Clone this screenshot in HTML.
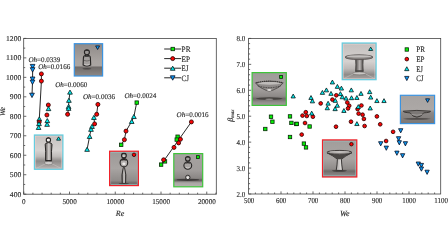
<!DOCTYPE html><html><head><meta charset="utf-8"><title>Figure</title><style>html,body{margin:0;padding:0;background:#fff}svg{display:block;filter:blur(0.35px)}text{stroke:#2a2a2a;stroke-width:0.14px}</style></head><body><svg width="448" height="252" viewBox="0 0 448 252" font-family='"Liberation Serif", serif' fill="#2a2a2a" text-rendering="geometricPrecision">
<defs>
<linearGradient id="gDark" x1="0" y1="0" x2="0" y2="1">
<stop offset="0" stop-color="#8f8a88"/><stop offset="0.55" stop-color="#a9a4a1"/><stop offset="0.69" stop-color="#aaa5a2"/><stop offset="0.72" stop-color="#6f6b69"/><stop offset="1" stop-color="#8d8886"/>
</linearGradient>
<linearGradient id="gLight" x1="0" y1="0" x2="0" y2="1">
<stop offset="0" stop-color="#c4c0be"/><stop offset="0.45" stop-color="#d6d3d1"/><stop offset="0.62" stop-color="#c0bcba"/><stop offset="0.76" stop-color="#8f8b89"/><stop offset="0.86" stop-color="#a19d9b"/><stop offset="1" stop-color="#b3afad"/>
</linearGradient>
<linearGradient id="gMid" x1="0" y1="0" x2="0" y2="1">
<stop offset="0" stop-color="#9c9896"/><stop offset="0.6" stop-color="#b0acaa"/><stop offset="0.85" stop-color="#8a8684"/><stop offset="1" stop-color="#777371"/>
</linearGradient>
<linearGradient id="gBlueR" x1="0" y1="0" x2="0" y2="1">
<stop offset="0" stop-color="#a7a3a1"/><stop offset="0.5" stop-color="#aca8a6"/><stop offset="0.62" stop-color="#8c8886"/><stop offset="1" stop-color="#7b7775"/>
</linearGradient>
<linearGradient id="gStem" x1="0" y1="0" x2="1" y2="0">
<stop offset="0" stop-color="#2c2a29"/><stop offset="0.3" stop-color="#8d8987"/><stop offset="0.55" stop-color="#c9c6c4"/><stop offset="0.8" stop-color="#6d6967"/><stop offset="1" stop-color="#2c2a29"/>
</linearGradient>
<radialGradient id="gDrop" cx="0.5" cy="0.45" r="0.55">
<stop offset="0" stop-color="#d8d5d3"/><stop offset="0.6" stop-color="#b5b1af"/><stop offset="0.85" stop-color="#4a4745"/><stop offset="1" stop-color="#2a2827"/>
</radialGradient>
<linearGradient id="gStem2" x1="0" y1="0" x2="1" y2="0">
<stop offset="0" stop-color="#55514f"/><stop offset="0.35" stop-color="#a5a19f"/><stop offset="0.55" stop-color="#d9d6d4"/><stop offset="0.8" stop-color="#8d8987"/><stop offset="1" stop-color="#55514f"/>
</linearGradient>
<linearGradient id="gMidA" x1="0" y1="0" x2="0" y2="1">
<stop offset="0" stop-color="#9d9997"/><stop offset="0.5" stop-color="#a8a4a2"/><stop offset="0.85" stop-color="#908c8a"/><stop offset="0.93" stop-color="#6f6b69"/><stop offset="1" stop-color="#8a8684"/>
</linearGradient>
<linearGradient id="gMidB" x1="0" y1="0" x2="0" y2="1">
<stop offset="0" stop-color="#a19d9b"/><stop offset="0.5" stop-color="#a9a5a3"/><stop offset="0.78" stop-color="#8f8b89"/><stop offset="0.84" stop-color="#716d6b"/><stop offset="1" stop-color="#949090"/>
</linearGradient>
<linearGradient id="gGreenL" x1="0" y1="0" x2="0" y2="1">
<stop offset="0" stop-color="#a6a2a0"/><stop offset="0.5" stop-color="#a19d9b"/><stop offset="0.74" stop-color="#8a8684"/><stop offset="0.8" stop-color="#5f5b59"/><stop offset="0.88" stop-color="#aaa6a4"/><stop offset="1" stop-color="#b5b1af"/>
</linearGradient>
<linearGradient id="gGreenR" x1="0" y1="0" x2="0" y2="1">
<stop offset="0" stop-color="#9f9b99"/><stop offset="0.45" stop-color="#a7a3a1"/><stop offset="0.72" stop-color="#8e8a88"/><stop offset="0.8" stop-color="#6d6967"/><stop offset="0.9" stop-color="#918d8b"/><stop offset="1" stop-color="#a09c9a"/>
</linearGradient>
<linearGradient id="gLightR" x1="0" y1="0" x2="0" y2="1">
<stop offset="0" stop-color="#c3bfbd"/><stop offset="0.5" stop-color="#d5d2d0"/><stop offset="0.7" stop-color="#bdb9b7"/><stop offset="0.86" stop-color="#8f8b89"/><stop offset="1" stop-color="#a9a5a3"/>
</linearGradient>
<linearGradient id="gStem3" x1="0" y1="0" x2="1" y2="0">
<stop offset="0" stop-color="#4a4745"/><stop offset="0.3" stop-color="#8d8987"/><stop offset="0.55" stop-color="#bdb9b7"/><stop offset="0.8" stop-color="#7c7876"/><stop offset="1" stop-color="#4a4745"/>
</linearGradient>
</defs>
<rect width="448" height="252" fill="#fff"/>
<rect x="23.7" y="38.4" width="192.60" height="155.80" fill="none" stroke="#444" stroke-width="0.8"/>
<path d="M23.75 194.2v-2.6M32.90 194.2v-1.5M42.05 194.2v-1.5M51.20 194.2v-1.5M60.35 194.2v-1.5M69.50 194.2v-2.6M78.65 194.2v-1.5M87.80 194.2v-1.5M96.95 194.2v-1.5M106.10 194.2v-1.5M115.25 194.2v-2.6M124.40 194.2v-1.5M133.55 194.2v-1.5M142.70 194.2v-1.5M151.85 194.2v-1.5M161.00 194.2v-2.6M170.15 194.2v-1.5M179.30 194.2v-1.5M188.45 194.2v-1.5M197.60 194.2v-1.5M206.75 194.2v-2.6M215.90 194.2v-1.5M23.7 194.20h2.6M23.7 184.46h1.5M23.7 174.72h2.6M23.7 164.99h1.5M23.7 155.25h2.6M23.7 145.51h1.5M23.7 135.77h2.6M23.7 126.04h1.5M23.7 116.30h2.6M23.7 106.56h1.5M23.7 96.82h2.6M23.7 87.09h1.5M23.7 77.35h2.6M23.7 67.61h1.5M23.7 57.87h2.6M23.7 48.14h1.5M23.7 38.40h2.6" stroke="#444" stroke-width="0.8" fill="none"/>
<text x="23.85" y="203.70" font-size="7.4" text-anchor="middle" textLength="3.59" lengthAdjust="spacingAndGlyphs">0</text>
<text x="69.60" y="203.70" font-size="7.4" text-anchor="middle" textLength="14.36" lengthAdjust="spacingAndGlyphs">5000</text>
<text x="115.35" y="203.70" font-size="7.4" text-anchor="middle" textLength="17.95" lengthAdjust="spacingAndGlyphs">10000</text>
<text x="161.10" y="203.70" font-size="7.4" text-anchor="middle" textLength="17.95" lengthAdjust="spacingAndGlyphs">15000</text>
<text x="206.85" y="203.70" font-size="7.4" text-anchor="middle" textLength="17.95" lengthAdjust="spacingAndGlyphs">20000</text>
<text x="21.30" y="196.70" font-size="7.4" text-anchor="end" textLength="11.43" lengthAdjust="spacingAndGlyphs">400</text>
<text x="21.30" y="177.22" font-size="7.4" text-anchor="end" textLength="11.43" lengthAdjust="spacingAndGlyphs">500</text>
<text x="21.30" y="157.75" font-size="7.4" text-anchor="end" textLength="11.43" lengthAdjust="spacingAndGlyphs">600</text>
<text x="21.30" y="138.27" font-size="7.4" text-anchor="end" textLength="11.43" lengthAdjust="spacingAndGlyphs">700</text>
<text x="21.30" y="118.80" font-size="7.4" text-anchor="end" textLength="11.43" lengthAdjust="spacingAndGlyphs">800</text>
<text x="21.30" y="99.32" font-size="7.4" text-anchor="end" textLength="11.43" lengthAdjust="spacingAndGlyphs">900</text>
<text x="21.30" y="79.85" font-size="7.4" text-anchor="end" textLength="15.24" lengthAdjust="spacingAndGlyphs">1000</text>
<text x="21.30" y="60.37" font-size="7.4" text-anchor="end" textLength="15.24" lengthAdjust="spacingAndGlyphs">1100</text>
<text x="21.30" y="40.90" font-size="7.4" text-anchor="end" textLength="15.24" lengthAdjust="spacingAndGlyphs">1200</text>
<text x="120.00" y="215.70" font-size="8" text-anchor="middle" font-style="italic">Re</text>
<text transform="translate(5.4 111.6) rotate(-90)" font-size="8" font-style="italic" text-anchor="middle">We</text>
<text x="28.40" y="61.80" font-size="7.1" textLength="32.0" lengthAdjust="spacingAndGlyphs" stroke="#2a2a2a" stroke-width="0.15"><tspan font-style="italic">Oh</tspan>=0.0339</text>
<text x="38.20" y="69.40" font-size="7.1" textLength="32.0" lengthAdjust="spacingAndGlyphs" stroke="#2a2a2a" stroke-width="0.15"><tspan font-style="italic">Oh</tspan>=0.0166</text>
<text x="55.20" y="87.40" font-size="7.1" textLength="32.0" lengthAdjust="spacingAndGlyphs" stroke="#2a2a2a" stroke-width="0.15"><tspan font-style="italic">Oh</tspan>=0.0060</text>
<text x="83.00" y="99.40" font-size="7.1" textLength="32.0" lengthAdjust="spacingAndGlyphs" stroke="#2a2a2a" stroke-width="0.15"><tspan font-style="italic">Oh</tspan>=0.0036</text>
<text x="124.40" y="97.50" font-size="7.1" textLength="32.0" lengthAdjust="spacingAndGlyphs" stroke="#2a2a2a" stroke-width="0.15"><tspan font-style="italic">Oh</tspan>=0.0024</text>
<text x="176.60" y="116.70" font-size="7.1" textLength="32.0" lengthAdjust="spacingAndGlyphs" stroke="#2a2a2a" stroke-width="0.15"><tspan font-style="italic">Oh</tspan>=0.0016</text>
<polyline points="32.6,66.4 32.6,69.7 32.6,79.0 32.5,82.1 32.0,95.2" fill="none" stroke="#111" stroke-width="0.9"/>
<polyline points="41.4,73.9 41.4,81.1 39.3,118.9 39.2,122.0 39.0,123.6 38.6,127.4" fill="none" stroke="#111" stroke-width="0.9"/>
<polyline points="70.0,92.1 68.9,100.3 68.6,106.4 68.6,108.3 67.6,114.3" fill="none" stroke="#111" stroke-width="0.9"/>
<polyline points="97.9,104.4 96.7,114.3 93.9,117.4 94.6,123.9 92.0,126.4 91.0,129.3 89.6,136.4 87.1,149.3" fill="none" stroke="#111" stroke-width="0.9"/>
<polyline points="136.7,102.6 133.9,116.5 131.7,121.4 126.0,131.1 124.4,139.7 121.2,144.8" fill="none" stroke="#111" stroke-width="0.9"/>
<polyline points="191.4,121.9 161.1,164.6" fill="none" stroke="#111" stroke-width="0.9"/>
<path d="M30.25 64.40L34.95 64.40L32.60 68.80Z" fill="#0c98f6" stroke="#061026" stroke-width="0.8" stroke-linejoin="miter"/>
<path d="M30.25 67.70L34.95 67.70L32.60 72.10Z" fill="#0c98f6" stroke="#061026" stroke-width="0.8" stroke-linejoin="miter"/>
<path d="M30.25 77.00L34.95 77.00L32.60 81.40Z" fill="#0c98f6" stroke="#061026" stroke-width="0.8" stroke-linejoin="miter"/>
<path d="M30.15 80.10L34.85 80.10L32.50 84.50Z" fill="#0c98f6" stroke="#061026" stroke-width="0.8" stroke-linejoin="miter"/>
<path d="M29.65 93.20L34.35 93.20L32.00 97.60Z" fill="#0c98f6" stroke="#061026" stroke-width="0.8" stroke-linejoin="miter"/>
<circle cx="41.40" cy="73.90" r="2.0" fill="#fa0505" stroke="#300505" stroke-width="0.85"/>
<circle cx="41.40" cy="81.10" r="2.0" fill="#fa0505" stroke="#300505" stroke-width="0.85"/>
<path d="M36.95 120.95L41.65 120.95L39.30 116.85Z" fill="#04eef2" stroke="#061818" stroke-width="0.8" stroke-linejoin="miter"/>
<circle cx="39.20" cy="122.00" r="2.0" fill="#fa0505" stroke="#300505" stroke-width="0.85"/>
<path d="M36.65 125.65L41.35 125.65L39.00 121.55Z" fill="#04eef2" stroke="#061818" stroke-width="0.8" stroke-linejoin="miter"/>
<path d="M36.25 129.45L40.95 129.45L38.60 125.35Z" fill="#04eef2" stroke="#061818" stroke-width="0.8" stroke-linejoin="miter"/>
<circle cx="48.30" cy="105.00" r="2.0" fill="#fa0505" stroke="#300505" stroke-width="0.85"/>
<path d="M46.15 110.65L50.85 110.65L48.50 106.55Z" fill="#04eef2" stroke="#061818" stroke-width="0.8" stroke-linejoin="miter"/>
<circle cx="46.90" cy="115.00" r="2.0" fill="#fa0505" stroke="#300505" stroke-width="0.85"/>
<path d="M44.95 122.65L49.65 122.65L47.30 118.55Z" fill="#04eef2" stroke="#061818" stroke-width="0.8" stroke-linejoin="miter"/>
<path d="M44.75 126.35L49.45 126.35L47.10 122.25Z" fill="#04eef2" stroke="#061818" stroke-width="0.8" stroke-linejoin="miter"/>
<path d="M67.65 94.15L72.35 94.15L70.00 90.05Z" fill="#04eef2" stroke="#061818" stroke-width="0.8" stroke-linejoin="miter"/>
<path d="M66.55 102.35L71.25 102.35L68.90 98.25Z" fill="#04eef2" stroke="#061818" stroke-width="0.8" stroke-linejoin="miter"/>
<path d="M66.25 108.45L70.95 108.45L68.60 104.35Z" fill="#04eef2" stroke="#061818" stroke-width="0.8" stroke-linejoin="miter"/>
<path d="M66.25 110.35L70.95 110.35L68.60 106.25Z" fill="#04eef2" stroke="#061818" stroke-width="0.8" stroke-linejoin="miter"/>
<circle cx="67.60" cy="114.30" r="2.0" fill="#fa0505" stroke="#300505" stroke-width="0.85"/>
<circle cx="97.90" cy="104.40" r="2.0" fill="#fa0505" stroke="#300505" stroke-width="0.85"/>
<circle cx="96.70" cy="114.30" r="2.0" fill="#fa0505" stroke="#300505" stroke-width="0.85"/>
<path d="M91.55 119.45L96.25 119.45L93.90 115.35Z" fill="#04eef2" stroke="#061818" stroke-width="0.8" stroke-linejoin="miter"/>
<circle cx="94.60" cy="123.90" r="2.0" fill="#fa0505" stroke="#300505" stroke-width="0.85"/>
<path d="M89.65 128.45L94.35 128.45L92.00 124.35Z" fill="#04eef2" stroke="#061818" stroke-width="0.8" stroke-linejoin="miter"/>
<path d="M88.65 131.35L93.35 131.35L91.00 127.25Z" fill="#04eef2" stroke="#061818" stroke-width="0.8" stroke-linejoin="miter"/>
<path d="M87.25 138.45L91.95 138.45L89.60 134.35Z" fill="#04eef2" stroke="#061818" stroke-width="0.8" stroke-linejoin="miter"/>
<path d="M84.75 151.35L89.45 151.35L87.10 147.25Z" fill="#04eef2" stroke="#061818" stroke-width="0.8" stroke-linejoin="miter"/>
<rect x="135.00" y="100.90" width="3.4" height="3.4" fill="#06f006" stroke="#082808" stroke-width="0.8"/>
<path d="M131.55 118.55L136.25 118.55L133.90 114.45Z" fill="#04eef2" stroke="#061818" stroke-width="0.8" stroke-linejoin="miter"/>
<path d="M129.35 123.45L134.05 123.45L131.70 119.35Z" fill="#04eef2" stroke="#061818" stroke-width="0.8" stroke-linejoin="miter"/>
<circle cx="126.00" cy="131.10" r="2.0" fill="#fa0505" stroke="#300505" stroke-width="0.85"/>
<circle cx="124.40" cy="139.70" r="2.0" fill="#fa0505" stroke="#300505" stroke-width="0.85"/>
<rect x="119.50" y="143.10" width="3.4" height="3.4" fill="#06f006" stroke="#082808" stroke-width="0.8"/>
<circle cx="191.40" cy="121.90" r="2.0" fill="#fa0505" stroke="#300505" stroke-width="0.85"/>
<rect x="175.90" y="135.00" width="3.4" height="3.4" fill="#06f006" stroke="#082808" stroke-width="0.8"/>
<rect x="175.00" y="137.90" width="3.4" height="3.4" fill="#06f006" stroke="#082808" stroke-width="0.8"/>
<circle cx="180.40" cy="139.30" r="2.0" fill="#fa0505" stroke="#300505" stroke-width="0.85"/>
<circle cx="178.60" cy="142.90" r="2.0" fill="#fa0505" stroke="#300505" stroke-width="0.85"/>
<circle cx="174.00" cy="147.40" r="2.0" fill="#fa0505" stroke="#300505" stroke-width="0.85"/>
<rect x="163.30" y="159.70" width="3.4" height="3.4" fill="#06f006" stroke="#082808" stroke-width="0.8"/>
<circle cx="163.60" cy="159.80" r="2.0" fill="#fa0505" stroke="#300505" stroke-width="0.85"/>
<rect x="159.40" y="162.90" width="3.4" height="3.4" fill="#06f006" stroke="#082808" stroke-width="0.8"/>
<path d="M164.2 49.00H181.2" stroke="#111" stroke-width="0.9"/>
<rect x="171.00" y="47.30" width="3.4" height="3.4" fill="#06f006" stroke="#082808" stroke-width="0.8"/>
<text x="181.60" y="51.90" font-size="8.3" text-anchor="start" textLength="9.0" lengthAdjust="spacingAndGlyphs">PR</text>
<path d="M164.2 58.60H181.2" stroke="#111" stroke-width="0.9"/>
<circle cx="172.70" cy="58.60" r="2.0" fill="#fa0505" stroke="#300505" stroke-width="0.85"/>
<text x="181.60" y="61.50" font-size="8.3" text-anchor="start" textLength="8.5" lengthAdjust="spacingAndGlyphs">EP</text>
<path d="M164.2 68.20H181.2" stroke="#111" stroke-width="0.9"/>
<path d="M170.35 70.25L175.05 70.25L172.70 66.15Z" fill="#04eef2" stroke="#061818" stroke-width="0.8" stroke-linejoin="miter"/>
<text x="181.60" y="71.10" font-size="8.3" text-anchor="start" textLength="6.8" lengthAdjust="spacingAndGlyphs">EJ</text>
<path d="M164.2 77.80H181.2" stroke="#111" stroke-width="0.9"/>
<path d="M170.35 75.80L175.05 75.80L172.70 80.20Z" fill="#0c98f6" stroke="#061026" stroke-width="0.8" stroke-linejoin="miter"/>
<text x="181.60" y="80.70" font-size="8.3" text-anchor="start" textLength="7.3" lengthAdjust="spacingAndGlyphs">CJ</text>
<rect x="74.30" y="43.70" width="28.30" height="32.30" fill="url(#gDark)"/>
<ellipse cx="86.90" cy="52.20" rx="2.5" ry="2.5" fill="#9b9795" stroke="#262423" stroke-width="1.1"/><path d="M84.90 51.08Q86.90 48.45 88.90 51.08Q86.90 50.33 84.90 51.08Z" fill="#262423"/>
<path d="M83.4 58Q83.3 55.2 86.9 55.2Q90.5 55.2 90.4 58L90.7 65Q86.9 66.9 83.1 65Z" fill="#a39f9d" stroke="#262423" stroke-width="1.1"/>
<path d="M83.9 57.2Q86.9 54.6 89.9 57.2Q86.9 56.4 83.9 57.2Z" fill="#262423"/>
<path d="M84 60.4Q86.9 61.6 89.8 60.4" stroke="#4a4745" stroke-width="0.6" fill="none"/>
<path d="M84.4 64.6Q86.9 65.6 89.4 64.6" stroke="#e6e4e2" stroke-width="0.7" fill="none"/>
<ellipse cx="86.9" cy="68.8" rx="4.4" ry="0.7" fill="#4a4745"/>
<rect x="74.30" y="43.70" width="28.30" height="32.30" fill="none" stroke="#3b93e0" stroke-width="1.2"/>
<path d="M95.60 45.90L99.60 45.90L97.60 49.50Z" fill="#0c98f6" stroke="#061026" stroke-width="0.8" stroke-linejoin="miter"/>
<rect x="34.40" y="135.00" width="28.50" height="34.30" fill="url(#gLight)"/>
<path d="M35 169L46 163.4M62.3 169L51.4 163.4" stroke="#c9c6c4" stroke-width="0.5"/>
<path d="M45.2 144.6Q45.4 142.6 48.6 142.6Q51.8 142.6 52 144.6Q51.2 150 51.6 160.6H45.6Q46 150 45.2 144.6Z" fill="url(#gStem2)" stroke="#262423" stroke-width="1.0"/>
<path d="M45.6 160.2H51.6V161.4H45.6Z" fill="#262423"/>
<path d="M44.6 162Q48.6 160.8 52.6 162Q53.4 164.6 48.6 164.8Q43.8 164.6 44.6 162Z" fill="#cfccca" stroke="#6b6765" stroke-width="0.5"/>
<circle cx="48.4" cy="139.9" r="2.15" fill="#f3f1ef" stroke="#262423" stroke-width="1.1"/>
<path d="M46.6 139Q48.4 136.2 50.2 139Q48.4 138 46.6 139Z" fill="#262423"/>
<rect x="35.60" y="136.20" width="26.10" height="31.90" fill="none" stroke="#e9cfcd" stroke-width="0.5"/><rect x="34.40" y="135.00" width="28.50" height="34.30" fill="none" stroke="#63cde0" stroke-width="1.2"/>
<path d="M56.60 140.15L60.60 140.15L58.60 136.85Z" fill="#04eef2" stroke="#061818" stroke-width="0.8" stroke-linejoin="miter"/>
<rect x="109.60" y="151.20" width="28.80" height="34.40" fill="url(#gMidA)"/>
<ellipse cx="123.90" cy="155.50" rx="2.4" ry="2.4" fill="#aaa6a4" stroke="#262423" stroke-width="1.1"/><path d="M121.98 154.42Q123.90 151.90 125.82 154.42Q123.90 153.70 121.98 154.42Z" fill="#262423"/><ellipse cx="123.90" cy="156.10" rx="1.01" ry="0.72" fill="#efedeb"/>
<ellipse cx="123.90" cy="162.70" rx="3.8" ry="4.2" fill="#b2aeac" stroke="#262423" stroke-width="1.1"/><path d="M120.86 160.81Q123.90 156.40 126.94 160.81Q123.90 159.55 120.86 160.81Z" fill="#262423"/><ellipse cx="123.90" cy="163.75" rx="1.60" ry="1.26" fill="#efedeb"/>
<path d="M123.3 167.6Q123.9 167 124.5 167.6Q126.6 174 125.6 183.4H122.2Q121.2 174 123.3 167.6Z" fill="url(#gStem2)" stroke="#262423" stroke-width="0.9"/>
<ellipse cx="123.9" cy="183.6" rx="5.4" ry="0.7" fill="#3f3c3b"/>
<rect x="110.80" y="152.40" width="26.40" height="32.00" fill="none" stroke="#8fcaca" stroke-width="0.5"/><rect x="109.60" y="151.20" width="28.80" height="34.40" fill="none" stroke="#f0222a" stroke-width="1.2"/>
<circle cx="134.00" cy="154.80" r="1.75" fill="#fa0505" stroke="#300505" stroke-width="0.85"/>
<rect x="173.80" y="153.60" width="28.90" height="33.20" fill="url(#gGreenL)"/>
<ellipse cx="187.80" cy="158.80" rx="2.3" ry="2.3" fill="#a29e9c" stroke="#262423" stroke-width="1.1"/><path d="M185.96 157.77Q187.80 155.35 189.64 157.77Q187.80 157.08 185.96 157.77Z" fill="#262423"/>
<ellipse cx="187.80" cy="165.50" rx="3.9" ry="3.7" fill="#a8a4a2" stroke="#262423" stroke-width="1.1"/><path d="M184.68 163.84Q187.80 159.95 190.92 163.84Q187.80 162.72 184.68 163.84Z" fill="#262423"/>
<path d="M186 167.4Q187.8 168.6 189.6 167.4" stroke="#e6e4e2" stroke-width="0.6" fill="none"/>
<ellipse cx="187.8" cy="179.8" rx="11.5" ry="1.1" fill="#3f3c3b"/>
<circle cx="187.8" cy="177.4" r="2.2" fill="#c9c6c4" stroke="#262423" stroke-width="0.9"/>
<circle cx="187.8" cy="177.8" r="0.9" fill="#f3f1ef"/>
<rect x="173.80" y="153.60" width="28.90" height="33.20" fill="none" stroke="#3fc43a" stroke-width="1.2"/>
<rect x="196.45" y="155.65" width="2.9" height="2.9" fill="#06f006" stroke="#082808" stroke-width="0.8"/>
<rect x="248.6" y="38.4" width="192.10" height="155.60" fill="none" stroke="#444" stroke-width="0.8"/>
<path d="M255.40 194.0v-1.5M261.80 194.0v-1.5M268.20 194.0v-1.5M274.60 194.0v-1.5M281.00 194.0v-2.6M287.40 194.0v-1.5M293.80 194.0v-1.5M300.20 194.0v-1.5M306.60 194.0v-1.5M313.00 194.0v-2.6M319.40 194.0v-1.5M325.80 194.0v-1.5M332.20 194.0v-1.5M338.60 194.0v-1.5M345.00 194.0v-2.6M351.40 194.0v-1.5M357.80 194.0v-1.5M364.20 194.0v-1.5M370.60 194.0v-1.5M377.00 194.0v-2.6M383.40 194.0v-1.5M389.80 194.0v-1.5M396.20 194.0v-1.5M402.60 194.0v-1.5M409.00 194.0v-2.6M415.40 194.0v-1.5M421.80 194.0v-1.5M428.20 194.0v-1.5M434.60 194.0v-1.5M248.6 194.00h2.6M248.6 188.81h1.5M248.6 183.63h1.5M248.6 178.44h1.5M248.6 173.26h1.5M248.6 168.07h2.6M248.6 162.88h1.5M248.6 157.70h1.5M248.6 152.51h1.5M248.6 147.33h1.5M248.6 142.14h2.6M248.6 136.95h1.5M248.6 131.77h1.5M248.6 126.58h1.5M248.6 121.40h1.5M248.6 116.21h2.6M248.6 111.02h1.5M248.6 105.84h1.5M248.6 100.65h1.5M248.6 95.47h1.5M248.6 90.28h2.6M248.6 85.09h1.5M248.6 79.91h1.5M248.6 74.72h1.5M248.6 69.54h1.5M248.6 64.35h2.6M248.6 59.16h1.5M248.6 53.98h1.5M248.6 48.79h1.5M248.6 43.61h1.5M248.6 38.42h2.6" stroke="#444" stroke-width="0.8" fill="none"/>
<text x="249.10" y="203.30" font-size="7.6" text-anchor="middle" textLength="10.26" lengthAdjust="spacingAndGlyphs">500</text>
<text x="281.10" y="203.30" font-size="7.6" text-anchor="middle" textLength="10.26" lengthAdjust="spacingAndGlyphs">600</text>
<text x="313.10" y="203.30" font-size="7.6" text-anchor="middle" textLength="10.26" lengthAdjust="spacingAndGlyphs">700</text>
<text x="345.10" y="203.30" font-size="7.6" text-anchor="middle" textLength="10.26" lengthAdjust="spacingAndGlyphs">800</text>
<text x="377.10" y="203.30" font-size="7.6" text-anchor="middle" textLength="10.26" lengthAdjust="spacingAndGlyphs">900</text>
<text x="409.10" y="203.30" font-size="7.6" text-anchor="middle" textLength="13.68" lengthAdjust="spacingAndGlyphs">1000</text>
<text x="441.10" y="203.30" font-size="7.6" text-anchor="middle" textLength="13.68" lengthAdjust="spacingAndGlyphs">1100</text>
<text x="245.30" y="196.90" font-size="7.6" text-anchor="end" textLength="8.74" lengthAdjust="spacingAndGlyphs">2.0</text>
<text x="245.30" y="170.97" font-size="7.6" text-anchor="end" textLength="8.74" lengthAdjust="spacingAndGlyphs">3.0</text>
<text x="245.30" y="145.04" font-size="7.6" text-anchor="end" textLength="8.74" lengthAdjust="spacingAndGlyphs">4.0</text>
<text x="245.30" y="119.11" font-size="7.6" text-anchor="end" textLength="8.74" lengthAdjust="spacingAndGlyphs">5.0</text>
<text x="245.30" y="93.18" font-size="7.6" text-anchor="end" textLength="8.74" lengthAdjust="spacingAndGlyphs">6.0</text>
<text x="245.30" y="67.25" font-size="7.6" text-anchor="end" textLength="8.74" lengthAdjust="spacingAndGlyphs">7.0</text>
<text x="245.30" y="41.32" font-size="7.6" text-anchor="end" textLength="8.74" lengthAdjust="spacingAndGlyphs">8.0</text>
<text x="344.80" y="215.70" font-size="8" text-anchor="middle" font-style="italic">We</text>
<text transform="translate(232.8 115.7) rotate(-90)" font-size="8" font-style="italic" text-anchor="middle">β<tspan font-size="4.9" dy="1.5">max</tspan></text>
<rect x="252.10" y="72.60" width="34.20" height="32.80" fill="url(#gGreenR)"/>
<path d="M255.4 82.8Q269.3 79.8 283.2 82.8Q280.4 87.6 272.4 90.4Q269.3 91.6 266.2 90.4Q258.2 87.6 255.4 82.8Z" fill="#8f8b89" stroke="#3f3c3b" stroke-width="0.7"/>
<ellipse cx="269.3" cy="83.2" rx="11.6" ry="1.5" fill="#bfbcba"/>
<path d="M256.4 82.6Q269.3 79.6 282.2 82.6" stroke="#34312f" stroke-width="1.1" fill="none" stroke-dasharray="1.1 0.8"/>
<path d="M257.8 85.8Q269.3 89.6 280.8 85.8" stroke="#2e2b2a" stroke-width="0.9" fill="none" stroke-dasharray="0.9 0.8"/>
<ellipse cx="269.3" cy="90" rx="2.2" ry="0.9" fill="#dedcda"/>
<ellipse cx="269.3" cy="98.6" rx="13.4" ry="1.3" fill="#45423f"/>
<ellipse cx="269.3" cy="99.2" rx="4" ry="0.7" fill="#8d8987"/>
<rect x="252.10" y="72.60" width="34.20" height="32.80" fill="none" stroke="#3fc43a" stroke-width="1.2"/>
<rect x="279.65" y="75.45" width="2.9" height="2.9" fill="#06f006" stroke="#082808" stroke-width="0.8"/>
<rect x="342.20" y="43.00" width="33.90" height="36.70" fill="url(#gLightR)"/>
<path d="M343 79L353 74M375.4 79L365.6 74" stroke="#c9c6c4" stroke-width="0.5"/>
<path d="M355.6 58Q359.4 59.8 363.2 58Q362.6 65 363.2 71.6H355.6Q356.2 65 355.6 58Z" fill="url(#gStem3)" stroke="#4a4745" stroke-width="0.9"/>
<path d="M355.6 70.2H363.2V71.8H355.6Z" fill="#4a4745"/>
<path d="M353 72.6Q359.4 71.4 365.8 72.6Q367.6 74.6 359.4 74.8Q351.2 74.6 353 72.6Z" fill="#c9c6c4" stroke="#77736f" stroke-width="0.5"/>
<ellipse cx="359" cy="57.2" rx="14" ry="2.4" fill="#85817f" stroke="#55514f" stroke-width="0.8"/>
<ellipse cx="359" cy="56.4" rx="12.2" ry="1.2" fill="#c2bfbd"/>
<rect x="343.40" y="44.20" width="31.50" height="34.30" fill="none" stroke="#e9cfcd" stroke-width="0.5"/><rect x="342.20" y="43.00" width="33.90" height="36.70" fill="none" stroke="#63cde0" stroke-width="1.2"/>
<path d="M368.70 50.45L372.70 50.45L370.70 47.15Z" fill="#04eef2" stroke="#061818" stroke-width="0.8" stroke-linejoin="miter"/>
<rect x="400.40" y="95.30" width="34.20" height="28.30" fill="url(#gBlueR)"/>
<path d="M403.2 111.2Q416.9 109.6 430.6 111.2Q430.8 112.4 423.6 112.9Q421.4 116.9 416.9 117.2Q412.4 116.9 410.2 112.9Q403 112.4 403.2 111.2Z" fill="#7c7876" stroke="#34312f" stroke-width="0.9"/>
<path d="M411.4 114.4Q416.9 116 422.4 114.4" stroke="#b9b5b3" stroke-width="0.6" fill="none"/>
<ellipse cx="416.9" cy="118.8" rx="13.6" ry="0.9" fill="#4f4b49"/>
<rect x="400.40" y="95.30" width="34.20" height="28.30" fill="none" stroke="#3b93e0" stroke-width="1.2"/>
<path d="M425.60 98.80L429.60 98.80L427.60 102.40Z" fill="#0c98f6" stroke="#061026" stroke-width="0.8" stroke-linejoin="miter"/>
<rect x="322.50" y="139.90" width="34.30" height="37.10" fill="url(#gMidB)"/>
<path d="M327 152.8Q339.4 149.6 351.8 152.8Q345 156 341.4 159.2Q341.6 165 342.6 170.4H336.2Q337.2 165 337.4 159.2Q333.8 156 327 152.8Z" fill="url(#gStem2)" stroke="#2e2b2a" stroke-width="0.9"/>
<path d="M327 152.8Q339.4 156.6 351.8 152.8Q345 156 341.4 159.2H337.4Q333.8 156 327 152.8Z" fill="#4a4745"/>
<ellipse cx="339.4" cy="152.4" rx="12.5" ry="2" fill="#8f8b89" stroke="#2e2b2a" stroke-width="0.8"/>
<ellipse cx="339.4" cy="151.9" rx="10" ry="1" fill="#c4c1bf"/>
<ellipse cx="339.4" cy="170.8" rx="7.6" ry="0.9" fill="#3f3c3b"/>
<rect x="323.70" y="141.10" width="31.90" height="34.70" fill="none" stroke="#8fcaca" stroke-width="0.5"/><rect x="322.50" y="139.90" width="34.30" height="37.10" fill="none" stroke="#f0222a" stroke-width="1.2"/>
<circle cx="351.40" cy="144.20" r="1.75" fill="#fa0505" stroke="#300505" stroke-width="0.85"/>
<rect x="269.30" y="115.00" width="3.4" height="3.4" fill="#06f006" stroke="#082808" stroke-width="0.8"/>
<rect x="270.70" y="120.00" width="3.4" height="3.4" fill="#06f006" stroke="#082808" stroke-width="0.8"/>
<rect x="263.60" y="127.30" width="3.4" height="3.4" fill="#06f006" stroke="#082808" stroke-width="0.8"/>
<rect x="288.30" y="114.70" width="3.4" height="3.4" fill="#06f006" stroke="#082808" stroke-width="0.8"/>
<rect x="289.70" y="121.20" width="3.4" height="3.4" fill="#06f006" stroke="#082808" stroke-width="0.8"/>
<rect x="294.60" y="122.30" width="3.4" height="3.4" fill="#06f006" stroke="#082808" stroke-width="0.8"/>
<rect x="307.90" y="124.80" width="3.4" height="3.4" fill="#06f006" stroke="#082808" stroke-width="0.8"/>
<rect x="288.30" y="135.30" width="3.4" height="3.4" fill="#06f006" stroke="#082808" stroke-width="0.8"/>
<rect x="302.20" y="141.90" width="3.4" height="3.4" fill="#06f006" stroke="#082808" stroke-width="0.8"/>
<rect x="304.30" y="145.70" width="3.4" height="3.4" fill="#06f006" stroke="#082808" stroke-width="0.8"/>
<rect x="295.00" y="122.20" width="3.4" height="3.4" fill="#06f006" stroke="#082808" stroke-width="0.8"/>
<circle cx="320.70" cy="103.40" r="1.85" fill="#fa0505" stroke="#300505" stroke-width="0.85"/>
<circle cx="332.40" cy="99.60" r="1.85" fill="#fa0505" stroke="#300505" stroke-width="0.85"/>
<circle cx="336.30" cy="95.30" r="1.85" fill="#fa0505" stroke="#300505" stroke-width="0.85"/>
<circle cx="347.30" cy="102.50" r="1.85" fill="#fa0505" stroke="#300505" stroke-width="0.85"/>
<circle cx="349.20" cy="105.70" r="1.85" fill="#fa0505" stroke="#300505" stroke-width="0.85"/>
<circle cx="348.00" cy="108.40" r="1.85" fill="#fa0505" stroke="#300505" stroke-width="0.85"/>
<circle cx="305.80" cy="112.20" r="1.85" fill="#fa0505" stroke="#300505" stroke-width="0.85"/>
<circle cx="302.50" cy="115.60" r="1.85" fill="#fa0505" stroke="#300505" stroke-width="0.85"/>
<circle cx="306.80" cy="116.00" r="1.85" fill="#fa0505" stroke="#300505" stroke-width="0.85"/>
<circle cx="312.90" cy="116.70" r="1.85" fill="#fa0505" stroke="#300505" stroke-width="0.85"/>
<circle cx="305.00" cy="123.00" r="1.85" fill="#fa0505" stroke="#300505" stroke-width="0.85"/>
<circle cx="301.70" cy="134.60" r="1.85" fill="#fa0505" stroke="#300505" stroke-width="0.85"/>
<circle cx="336.00" cy="126.70" r="1.85" fill="#fa0505" stroke="#300505" stroke-width="0.85"/>
<circle cx="351.00" cy="121.70" r="1.85" fill="#fa0505" stroke="#300505" stroke-width="0.85"/>
<circle cx="361.40" cy="105.50" r="1.85" fill="#fa0505" stroke="#300505" stroke-width="0.85"/>
<circle cx="357.60" cy="109.10" r="1.85" fill="#fa0505" stroke="#300505" stroke-width="0.85"/>
<circle cx="358.60" cy="113.60" r="1.85" fill="#fa0505" stroke="#300505" stroke-width="0.85"/>
<circle cx="362.60" cy="114.70" r="1.85" fill="#fa0505" stroke="#300505" stroke-width="0.85"/>
<circle cx="363.90" cy="118.90" r="1.85" fill="#fa0505" stroke="#300505" stroke-width="0.85"/>
<circle cx="376.90" cy="116.40" r="1.85" fill="#fa0505" stroke="#300505" stroke-width="0.85"/>
<circle cx="364.60" cy="126.00" r="1.85" fill="#fa0505" stroke="#300505" stroke-width="0.85"/>
<circle cx="380.20" cy="124.30" r="1.85" fill="#fa0505" stroke="#300505" stroke-width="0.85"/>
<circle cx="393.10" cy="131.80" r="1.85" fill="#fa0505" stroke="#300505" stroke-width="0.85"/>
<circle cx="386.10" cy="141.00" r="1.85" fill="#fa0505" stroke="#300505" stroke-width="0.85"/>
<path d="M291.05 97.95L295.35 97.95L293.20 94.05Z" fill="#04eef2" stroke="#061818" stroke-width="0.8" stroke-linejoin="miter"/>
<path d="M308.85 99.45L313.15 99.45L311.00 95.55Z" fill="#04eef2" stroke="#061818" stroke-width="0.8" stroke-linejoin="miter"/>
<path d="M310.25 102.85L314.55 102.85L312.40 98.95Z" fill="#04eef2" stroke="#061818" stroke-width="0.8" stroke-linejoin="miter"/>
<path d="M320.25 94.35L324.55 94.35L322.40 90.45Z" fill="#04eef2" stroke="#061818" stroke-width="0.8" stroke-linejoin="miter"/>
<path d="M324.25 91.85L328.55 91.85L326.40 87.95Z" fill="#04eef2" stroke="#061818" stroke-width="0.8" stroke-linejoin="miter"/>
<path d="M330.25 83.95L334.55 83.95L332.40 80.05Z" fill="#04eef2" stroke="#061818" stroke-width="0.8" stroke-linejoin="miter"/>
<path d="M328.85 95.35L333.15 95.35L331.00 91.45Z" fill="#04eef2" stroke="#061818" stroke-width="0.8" stroke-linejoin="miter"/>
<path d="M335.25 88.35L339.55 88.35L337.40 84.45Z" fill="#04eef2" stroke="#061818" stroke-width="0.8" stroke-linejoin="miter"/>
<path d="M339.25 90.05L343.55 90.05L341.40 86.15Z" fill="#04eef2" stroke="#061818" stroke-width="0.8" stroke-linejoin="miter"/>
<path d="M338.25 95.55L342.55 95.55L340.40 91.65Z" fill="#04eef2" stroke="#061818" stroke-width="0.8" stroke-linejoin="miter"/>
<path d="M340.15 98.75L344.45 98.75L342.30 94.85Z" fill="#04eef2" stroke="#061818" stroke-width="0.8" stroke-linejoin="miter"/>
<path d="M333.15 102.35L337.45 102.35L335.30 98.45Z" fill="#04eef2" stroke="#061818" stroke-width="0.8" stroke-linejoin="miter"/>
<path d="M325.95 105.15L330.25 105.15L328.10 101.25Z" fill="#04eef2" stroke="#061818" stroke-width="0.8" stroke-linejoin="miter"/>
<path d="M335.15 107.25L339.45 107.25L337.30 103.35Z" fill="#04eef2" stroke="#061818" stroke-width="0.8" stroke-linejoin="miter"/>
<path d="M325.15 109.75L329.45 109.75L327.30 105.85Z" fill="#04eef2" stroke="#061818" stroke-width="0.8" stroke-linejoin="miter"/>
<path d="M332.95 110.65L337.25 110.65L335.10 106.75Z" fill="#04eef2" stroke="#061818" stroke-width="0.8" stroke-linejoin="miter"/>
<path d="M343.85 100.05L348.15 100.05L346.00 96.15Z" fill="#04eef2" stroke="#061818" stroke-width="0.8" stroke-linejoin="miter"/>
<path d="M341.75 112.45L346.05 112.45L343.90 108.55Z" fill="#04eef2" stroke="#061818" stroke-width="0.8" stroke-linejoin="miter"/>
<path d="M309.55 115.05L313.85 115.05L311.70 111.15Z" fill="#04eef2" stroke="#061818" stroke-width="0.8" stroke-linejoin="miter"/>
<path d="M349.15 91.85L353.45 91.85L351.30 87.95Z" fill="#04eef2" stroke="#061818" stroke-width="0.8" stroke-linejoin="miter"/>
<path d="M349.35 99.65L353.65 99.65L351.50 95.75Z" fill="#04eef2" stroke="#061818" stroke-width="0.8" stroke-linejoin="miter"/>
<path d="M354.75 99.45L359.05 99.45L356.90 95.55Z" fill="#04eef2" stroke="#061818" stroke-width="0.8" stroke-linejoin="miter"/>
<path d="M358.85 95.35L363.15 95.35L361.00 91.45Z" fill="#04eef2" stroke="#061818" stroke-width="0.8" stroke-linejoin="miter"/>
<path d="M367.55 93.65L371.85 93.65L369.70 89.75Z" fill="#04eef2" stroke="#061818" stroke-width="0.8" stroke-linejoin="miter"/>
<path d="M368.55 99.05L372.85 99.05L370.70 95.15Z" fill="#04eef2" stroke="#061818" stroke-width="0.8" stroke-linejoin="miter"/>
<path d="M374.75 102.55L379.05 102.55L376.90 98.65Z" fill="#04eef2" stroke="#061818" stroke-width="0.8" stroke-linejoin="miter"/>
<path d="M381.85 102.55L386.15 102.55L384.00 98.65Z" fill="#04eef2" stroke="#061818" stroke-width="0.8" stroke-linejoin="miter"/>
<path d="M356.15 108.55L360.45 108.55L358.30 104.65Z" fill="#04eef2" stroke="#061818" stroke-width="0.8" stroke-linejoin="miter"/>
<path d="M368.05 109.95L372.35 109.95L370.20 106.05Z" fill="#04eef2" stroke="#061818" stroke-width="0.8" stroke-linejoin="miter"/>
<path d="M354.75 125.55L359.05 125.55L356.90 121.65Z" fill="#04eef2" stroke="#061818" stroke-width="0.8" stroke-linejoin="miter"/>
<path d="M398.55 128.70L402.85 128.70L400.70 132.90Z" fill="#0c98f6" stroke="#061026" stroke-width="0.8" stroke-linejoin="miter"/>
<path d="M396.45 136.70L400.75 136.70L398.60 140.90Z" fill="#0c98f6" stroke="#061026" stroke-width="0.8" stroke-linejoin="miter"/>
<path d="M397.15 140.70L401.45 140.70L399.30 144.90Z" fill="#0c98f6" stroke="#061026" stroke-width="0.8" stroke-linejoin="miter"/>
<path d="M403.25 141.70L407.55 141.70L405.40 145.90Z" fill="#0c98f6" stroke="#061026" stroke-width="0.8" stroke-linejoin="miter"/>
<path d="M378.55 141.70L382.85 141.70L380.70 145.90Z" fill="#0c98f6" stroke="#061026" stroke-width="0.8" stroke-linejoin="miter"/>
<path d="M384.15 146.10L388.45 146.10L386.30 150.30Z" fill="#0c98f6" stroke="#061026" stroke-width="0.8" stroke-linejoin="miter"/>
<path d="M394.75 151.10L399.05 151.10L396.90 155.30Z" fill="#0c98f6" stroke="#061026" stroke-width="0.8" stroke-linejoin="miter"/>
<path d="M400.45 153.70L404.75 153.70L402.60 157.90Z" fill="#0c98f6" stroke="#061026" stroke-width="0.8" stroke-linejoin="miter"/>
<path d="M416.15 162.00L420.45 162.00L418.30 166.20Z" fill="#0c98f6" stroke="#061026" stroke-width="0.8" stroke-linejoin="miter"/>
<path d="M419.25 163.40L423.55 163.40L421.40 167.60Z" fill="#0c98f6" stroke="#061026" stroke-width="0.8" stroke-linejoin="miter"/>
<path d="M419.25 167.00L423.55 167.00L421.40 171.20Z" fill="#0c98f6" stroke="#061026" stroke-width="0.8" stroke-linejoin="miter"/>
<path d="M424.95 170.20L429.25 170.20L427.10 174.40Z" fill="#0c98f6" stroke="#061026" stroke-width="0.8" stroke-linejoin="miter"/>
<rect x="405.10" y="47.80" width="3.4" height="3.4" fill="#06f006" stroke="#082808" stroke-width="0.8"/>
<text x="416.20" y="52.40" font-size="8.3" text-anchor="start" textLength="8.8" lengthAdjust="spacingAndGlyphs">PR</text>
<circle cx="406.80" cy="59.10" r="1.85" fill="#fa0505" stroke="#300505" stroke-width="0.85"/>
<text x="416.20" y="62.00" font-size="8.3" text-anchor="start" textLength="8.3" lengthAdjust="spacingAndGlyphs">EP</text>
<path d="M404.65 70.65L408.95 70.65L406.80 66.75Z" fill="#04eef2" stroke="#061818" stroke-width="0.8" stroke-linejoin="miter"/>
<text x="416.20" y="71.60" font-size="8.3" text-anchor="start" textLength="6.7" lengthAdjust="spacingAndGlyphs">EJ</text>
<path d="M404.65 76.40L408.95 76.40L406.80 80.60Z" fill="#0c98f6" stroke="#061026" stroke-width="0.8" stroke-linejoin="miter"/>
<text x="416.20" y="81.20" font-size="8.3" text-anchor="start" textLength="7.2" lengthAdjust="spacingAndGlyphs">CJ</text>
</svg></body></html>
